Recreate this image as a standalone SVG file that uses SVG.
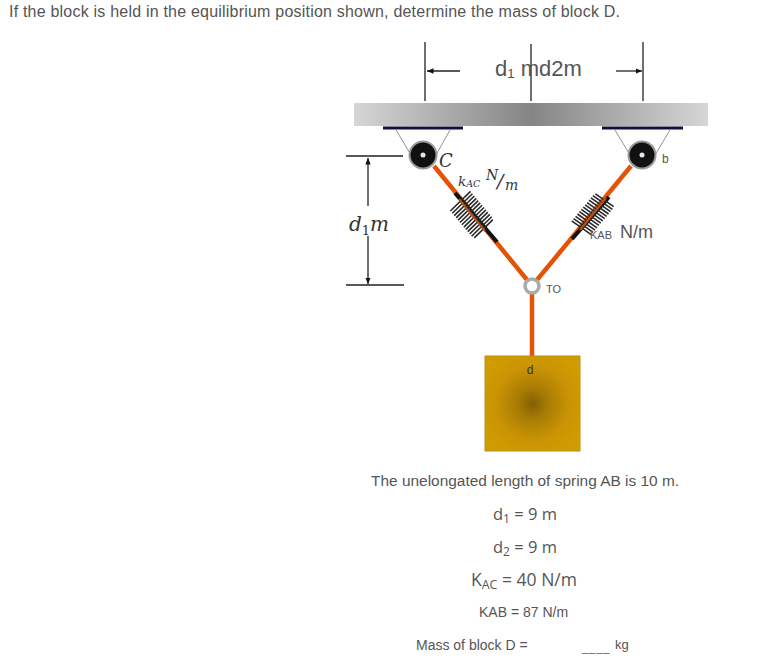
<svg xmlns="http://www.w3.org/2000/svg" width="764" height="663" viewBox="0 0 764 663">
<defs>
<linearGradient id="beam" x1="0" x2="1" y1="0" y2="0"><stop offset="0" stop-color="#d6d6d6"/><stop offset="0.5" stop-color="#858585"/><stop offset="1" stop-color="#d6d6d6"/></linearGradient>
<radialGradient id="block" cx="0.5" cy="0.5" r="0.55"><stop offset="0" stop-color="#856004"/><stop offset="0.3" stop-color="#a87c04"/><stop offset="0.7" stop-color="#c99304"/><stop offset="1" stop-color="#d09a02"/></radialGradient>
<marker id="ah" viewBox="0 0 6 6" refX="6" refY="3" markerWidth="5" markerHeight="5" orient="auto-start-reverse"><path d="M0 0.5L6 3L0 5.5z" fill="#111"/></marker>
<g id="coil"><path d="M-19 -14L-17 14M-16 -14L-14 14M-13 -14L-11 14M-10 -14L-8 14M-7 -14L-5 14M-4 -14L-2 14M-1 -14L1 14M2 -14L4 14M5 -14L7 14M8 -14L10 14M11 -14L13 14M14 -14L16 14M17 -13L19 13" stroke="#2a2a2a" stroke-width="1.6" fill="none"/></g>
</defs>
<style>
.s{font-family:"Liberation Sans",Arial,sans-serif;fill:#555}
.c{font-family:"Open Sans","Noto Sans",sans-serif;fill:#555}
.m{font-family:"DejaVu Serif","Liberation Serif",serif;font-style:italic;fill:#333}
.dim{stroke:#222;stroke-width:1.3;fill:none}
.rope{stroke:#e35205;stroke-width:4.5;fill:none}
.bk{stroke:#111;stroke-width:4;fill:none}
.br{stroke:#777;stroke-width:.8;fill:none}
</style>
<rect width="764" height="663" fill="#fff"/>
<text class="s" x="9" y="17" font-size="16" textLength="611" lengthAdjust="spacing">If the block is held in the equilibrium position shown, determine the mass of block D.</text>
<g id="connectors">
<path class="rope" d="M434 166L532 286L631 166M532 286V356"/>
<path class="bk" d="M455 193L497 242M609 197L572 239"/>
<path class="dim" d="M425 42V101M531 44V101M643 42V101"/>
<path class="dim" d="M460 71H427" marker-end="url(#ah)"/>
<path class="dim" d="M616 71H642" marker-end="url(#ah)"/>
<path class="dim" d="M346 156H403M346 285H404"/>
<path class="dim" d="M368 206V158" marker-end="url(#ah)"/>
<path class="dim" d="M368 236V284" marker-end="url(#ah)"/>
</g>
<g id="beam-node"><rect x="354" y="103" width="354" height="23" fill="url(#beam)"/>
<path d="M383 128H463M602 128H683" stroke="#10103a" stroke-width="3"/>
<path class="br" d="M396 130L411 155M450 130L436 155M615 130L630 155M670 130L655 155"/></g>
<g id="spring-ac"><use href="#coil" transform="translate(472 215) rotate(50)"/><path d="M459 199L485 231" stroke="#b5531c" stroke-width="2"/></g>
<g id="spring-ab"><use href="#coil" transform="translate(593 214) rotate(-50) scale(1 .85)"/><path d="M606 198L580 230" stroke="#b5531c" stroke-width="2"/></g>
<g id="pulley-c"><circle cx="423" cy="155" r="13.5" fill="#111" stroke="#999" stroke-width="2"/><circle cx="423" cy="155" r="2.5" fill="#dfe6f5"/></g>
<g id="pulley-b"><circle cx="642" cy="155" r="13.5" fill="#111" stroke="#999" stroke-width="2"/><circle cx="642" cy="155" r="2.5" fill="#dfe6f5"/></g>
<g id="ring-a"><circle cx="532" cy="286" r="7" fill="#fff" stroke="#aaa" stroke-width="3.5"/></g>
<g id="block-d"><rect x="485" y="356" width="95" height="95" fill="url(#block)" stroke="#b8940f"/><text class="s" x="530" y="374" font-size="12" text-anchor="middle" style="fill:#333">d</text></g>
<g id="labels">
<text class="s" x="495" y="76" font-size="22">d₁ md2m</text>
<text class="m" x="439" y="167" font-size="18">C</text>
<text class="s" x="662" y="163" font-size="12">b</text>
<text class="m" x="458" y="186" font-size="13.5">k<tspan font-size="9.5" dy="1">AC</tspan></text>
<text class="m" x="486" y="180" font-size="14">N</text>
<text class="m" x="497" y="188" font-size="19" font-style="normal">/</text>
<text class="m" x="505" y="190" font-size="14">m</text>
<text class="m" x="349" y="231" font-size="20">d<tspan font-size="13" dy="4" font-style="normal">1</tspan><tspan dy="-4">m</tspan></text>
<text class="s" x="590" y="239" font-size="11">KAB</text>
<text class="s" x="620" y="238" font-size="18">N/m</text>
<text class="s" x="546" y="293" font-size="11">TO</text>
<text class="s" x="371" y="486" font-size="15.45">The unelongated length of spring AB is 10 m.</text>
<text class="c" x="493" y="520" font-size="16.5">d<tspan font-size="12" dy="3">1</tspan><tspan dy="-3"> = 9 m</tspan></text>
<text class="c" x="493" y="553" font-size="16.5">d<tspan font-size="12" dy="3">2</tspan><tspan dy="-3"> = 9 m</tspan></text>
<text class="c" x="471" y="586" font-size="17.5">K<tspan font-size="12.5" dy="3">AC</tspan><tspan dy="-3"> = 40 N/m</tspan></text>
<text class="s" x="479" y="617" font-size="14">KAB = 87 N/m</text>
<text class="s" x="416" y="650" font-size="14">Mass of block D =</text>
<text class="s" x="582" y="652" font-size="11" letter-spacing="1">____</text>
<text class="s" x="615" y="649" font-size="13">kg</text>
</g>
</svg>
